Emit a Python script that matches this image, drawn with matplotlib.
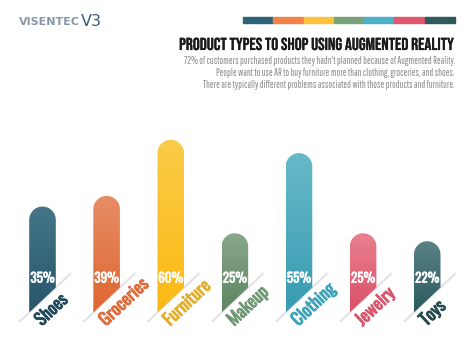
import numpy as np
import matplotlib
matplotlib.use("Agg")
import matplotlib.pyplot as plt
import matplotlib.patheffects as pe
from matplotlib.path import Path
from matplotlib.patches import PathPatch, Rectangle
from matplotlib.colors import LinearSegmentedColormap

# 数据
categories = ["Shoes", "Groceries", "Furniture", "Makeup", "Clothing", "Jewelry", "Toys"]
values = [35, 39, 60, 25, 55, 25, 22]
top_colors = ["#447688", "#e78d66", "#fccb48", "#8aa88b", "#68b9c8", "#e9818f", "#5b8387"]
bottom_colors = ["#28556a", "#df6630", "#fbb912", "#5d8563", "#389bb1", "#db5068", "#2a5a5e"]
label_colors = ["#21495b", "#e06a38", "#e3ae2a", "#6f9874", "#3ea3b9", "#da566c", "#244a4d"]
strip_colors = ["#2e6378", "#f08347", "#fbc23a", "#77a27a", "#4ab2c8", "#e0566e", "#2f5a5c"]

title = "PRODUCT TYPES TO SHOP USING AUGMENTED REALITY"
subtitle = ("72% of customers purchased products they hadn't planned because of Augmented Reality.\n"
            "People want to use AR to buy furniture more than clothing, groceries, and shoes.\n"
            "There are typically different problems associated with those products and furniture.")

# 字体(找不到就退回)
label_font = ["Oswald", "Fjalla One", "Liberation Sans Narrow", "DejaVu Sans"]
title_font = ["Bebas Neue", "Oswald", "DejaVu Sans"]
sub_font = ["Pathway Gothic One", "Roboto Condensed", "DejaVu Sans"]

W, H = 474, 357
fig = plt.figure(figsize=(W / 100, H / 100), dpi=100)
ax = fig.add_axes([0, 0, 1, 1])
xlim = (-0.663, 6.73)
ylim = (-21.35, 112.36)

# 像素 -> 数据单位
kx = W / (xlim[1] - xlim[0])
ky = H / (ylim[1] - ylim[0])
hw = 13.3 / kx        # 半宽
ry = 13.3 / ky        # 圆顶半径(y方向)
cut = 12.5 / ky       # 斜切半高
angle = np.degrees(np.arctan(12.5 / 13.3))

t = np.linspace(0, np.pi, 40)
for i, (cat, v) in enumerate(zip(categories, values)):
    x = i
    # 斜线阴影
    s = np.array([-1.7, 2.1])
    ax.plot(x + s * hw, s * cut, color="#e4e4e4", lw=1.6, zorder=1, solid_capstyle="round")

    verts = [(x - hw, -cut), (x + hw, cut), (x + hw, v - ry)]
    verts += list(zip(x + hw * np.cos(t), v - ry + ry * np.sin(t)))
    verts += [(x - hw, v - ry), (x - hw, -cut)]
    codes = [Path.MOVETO] + [Path.LINETO] * (len(verts) - 2) + [Path.CLOSEPOLY]
    patch = PathPatch(Path(verts, codes), facecolor="none", edgecolor="none", zorder=2)
    ax.add_patch(patch)

    cmap = LinearSegmentedColormap.from_list(cat, [bottom_colors[i], top_colors[i]])
    grad = np.linspace(0, 1, 256).reshape(-1, 1)
    im = ax.imshow(grad, extent=(x - hw, x + hw, -cut, v), origin="lower",
                   aspect="auto", cmap=cmap, zorder=2)
    im.set_clip_path(patch)

    ax.text(x, 8.6, f"{v}%", color="white", ha="center", va="center_baseline",
            fontsize=9.5, fontweight="bold", family=label_font, zorder=3,
            path_effects=[pe.withStroke(linewidth=0.4, foreground="white")])

    ax.annotate(cat, xy=(x - hw, -cut), xytext=(3, -4), textcoords="offset pixels",
                rotation=angle, rotation_mode="anchor", ha="left", va="top",
                fontsize=12.5, fontweight="bold", color=label_colors[i], family=label_font,
                path_effects=[pe.withStroke(linewidth=0.6, foreground=label_colors[i])])

ax.set_xlim(*xlim)
ax.set_ylim(*ylim)
ax.axis("off")


def fx(px):
    return px / W


def fy(py):
    return 1 - py / H


# 顶部色条
seg = (455 - 243) / len(strip_colors)
for k, c in enumerate(strip_colors):
    fig.patches.append(Rectangle((fx(243 + k * seg), fy(23)), seg / W, 6 / H,
                                 transform=fig.transFigure, color=c, figure=fig))

# 标题
fig.text(fx(455), fy(44), title, ha="right", va="center", fontsize=12.5,
         color="#1a1a1a", family=title_font,
         path_effects=[pe.withStroke(linewidth=0.15, foreground="#1a1a1a")])
fig.text(fx(455), fy(73), subtitle, ha="right", va="center", fontsize=7.0,
         color="#8a8a8a", family=sub_font, multialignment="right", linespacing=1.2)

# logo
fig.text(fx(19), fy(22), "VISENTEC", ha="left", va="center", fontsize=8,
         fontweight="bold", color="#8797aa", family="DejaVu Sans")
fig.text(fx(81), fy(22), "V3", ha="left", va="center", fontsize=11.5,
         color="#3c5d7e", family="DejaVu Sans")

fig.savefig("out.png", dpi=100, facecolor="white")
